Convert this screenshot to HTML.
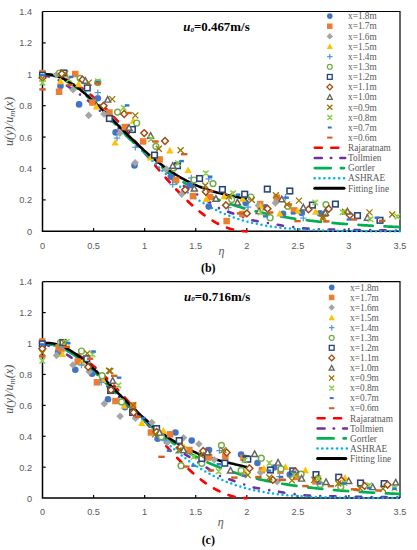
<!DOCTYPE html>
<html><head><meta charset="utf-8"><style>
html,body{margin:0;padding:0;background:#fff;width:417px;height:550px;overflow:hidden}
svg{display:block}
.tk{font-family:"Liberation Sans",sans-serif;font-size:9.2px;fill:#595959}
.lg{font-family:"Liberation Serif",serif;font-size:9.3px;fill:#595959}
.ttl{font-family:"Liberation Serif",serif;font-size:12.9px;font-weight:bold;fill:#000}
.yt{font-family:"Liberation Serif",serif;font-size:12.3px;font-style:italic;fill:#505050}
.eta{font-family:"Liberation Serif",serif;font-size:12px;font-style:italic;fill:#595959}
.cap{font-family:"Liberation Serif",serif;font-size:12px;font-weight:bold;fill:#000}
</style></head><body>
<svg width="417" height="550" viewBox="0 0 417 550">
<rect width="417" height="550" fill="#fff"/>
<path d="M42.5,11.5 H400 V231.3" fill="none" stroke="#000" stroke-width="1.2"/>
<path d="M42.5,11.5 V231.3 H400" fill="none" stroke="#000" stroke-width="1.5"/>
<path d="M42.5,199.90 h3.2" stroke="#000" stroke-width="1.2"/>
<path d="M42.5,168.50 h3.2" stroke="#000" stroke-width="1.2"/>
<path d="M42.5,137.10 h3.2" stroke="#000" stroke-width="1.2"/>
<path d="M42.5,105.70 h3.2" stroke="#000" stroke-width="1.2"/>
<path d="M42.5,74.30 h3.2" stroke="#000" stroke-width="1.2"/>
<path d="M42.5,42.90 h3.2" stroke="#000" stroke-width="1.2"/>
<path d="M93.57,231.3 v-3.2" stroke="#000" stroke-width="1.2"/>
<path d="M144.64,231.3 v-3.2" stroke="#000" stroke-width="1.2"/>
<path d="M195.71,231.3 v-3.2" stroke="#000" stroke-width="1.2"/>
<path d="M246.79,231.3 v-3.2" stroke="#000" stroke-width="1.2"/>
<path d="M297.86,231.3 v-3.2" stroke="#000" stroke-width="1.2"/>
<path d="M348.93,231.3 v-3.2" stroke="#000" stroke-width="1.2"/>
<text x="32.0" y="234.70" text-anchor="end" class="tk">0</text>
<text x="32.0" y="203.30" text-anchor="end" class="tk">0.2</text>
<text x="32.0" y="171.90" text-anchor="end" class="tk">0.4</text>
<text x="32.0" y="140.50" text-anchor="end" class="tk">0.6</text>
<text x="32.0" y="109.10" text-anchor="end" class="tk">0.8</text>
<text x="32.0" y="77.70" text-anchor="end" class="tk">1</text>
<text x="32.0" y="46.30" text-anchor="end" class="tk">1.2</text>
<text x="32.0" y="14.90" text-anchor="end" class="tk">1.4</text>
<text x="42.50" y="248.60" text-anchor="middle" class="tk">0</text>
<text x="93.57" y="248.60" text-anchor="middle" class="tk">0.5</text>
<text x="144.64" y="248.60" text-anchor="middle" class="tk">1</text>
<text x="195.71" y="248.60" text-anchor="middle" class="tk">1.5</text>
<text x="246.79" y="248.60" text-anchor="middle" class="tk">2</text>
<text x="297.86" y="248.60" text-anchor="middle" class="tk">2.5</text>
<text x="348.93" y="248.60" text-anchor="middle" class="tk">3</text>
<text x="400.00" y="248.60" text-anchor="middle" class="tk">3.5</text>
<path d="M47.74,74.55 L48.50,74.63 L49.31,74.73 L50.13,74.84 L50.95,74.96 L51.77,75.10 L52.58,75.24 L53.40,75.40 L53.96,75.52 M63.26,78.27 L64.03,78.56 L64.85,78.89 L65.67,79.23 L66.49,79.58 L67.30,79.94 L68.12,80.31 L68.94,80.70 L69.04,80.75 M77.54,85.42 L78.34,85.93 L79.16,86.45 L79.98,86.98 L80.80,87.52 L81.61,88.08 L82.43,88.64 L82.79,88.90 M90.52,94.75 L91.29,95.38 L92.11,96.06 L92.92,96.74 L93.74,97.44 L94.56,98.14 L95.34,98.82 M102.47,105.39 L103.28,106.17 L104.10,106.97 L104.92,107.77 L105.73,108.58 L106.55,109.40 L106.96,109.81 M113.67,116.81 L114.46,117.65 L115.27,118.54 L116.09,119.43 L116.91,120.33 L117.73,121.23 L117.93,121.45 M124.36,128.71 L125.09,129.55 L125.90,130.49 L126.72,131.44 L127.54,132.39 L128.36,133.34 L128.48,133.48 M134.74,140.89 L135.44,141.73 L136.26,142.71 L137.08,143.69 L137.90,144.67 L138.71,145.65 L138.78,145.73 M144.97,153.19 L145.66,154.03 L146.48,155.02 L147.30,156.01 L148.12,156.99 L148.94,157.98 L148.99,158.04 M155.20,165.49 L155.89,166.31 L156.70,167.28 L157.52,168.25 L158.34,169.21 L159.16,170.18 L159.27,170.31 M165.60,177.66 L166.38,178.55 L167.20,179.49 L168.02,180.41 L168.83,181.33 L169.65,182.25 L169.77,182.38 M176.31,189.54 L177.01,190.28 L177.83,191.14 L178.65,192.00 L179.46,192.85 L180.28,193.70 L180.66,194.09 M187.55,200.92 L188.32,201.65 L189.14,202.42 L189.96,203.18 L190.77,203.93 L191.59,204.68 L192.17,205.20 M199.56,211.49 L200.31,212.09 L201.13,212.73 L201.95,213.37 L202.77,213.99 L203.58,214.60 L204.40,215.21 L204.56,215.32 M212.62,220.71 L213.40,221.18 L214.21,221.66 L215.03,222.13 L215.85,222.58 L216.67,223.03 L217.49,223.46 L218.11,223.79 M226.99,227.69 L227.71,227.95 L228.52,228.22 L229.34,228.49 L230.16,228.75 L230.98,228.99 L231.79,229.22 L232.61,229.44 L233.01,229.54 M242.56,231.13 L243.38,231.19 L244.20,231.24 L245.01,231.27 L245.83,231.29 L246.65,231.30 L246.79,231.30" fill="none" stroke="#FF0000" stroke-width="2.7" stroke-linecap="round" stroke-linejoin="round"/>
<path d="M43.92,74.78 L45.12,75.19 L46.55,75.68 L47.99,76.16 L49.03,76.52 M67.01,85.61 L68.26,86.47 L69.69,87.45 L71.12,88.44 L71.46,88.67 M87.94,100.52 L89.24,101.64 L90.68,102.86 L92.05,104.02 M107.14,117.59 L108.56,118.93 L109.99,120.27 L111.07,121.29 M125.87,135.18 L127.16,136.39 L128.60,137.74 L129.81,138.88 M144.61,152.77 L146.01,153.95 L147.44,155.16 L148.73,156.26 M164.23,169.37 L165.56,170.49 L166.99,171.70 L168.36,172.85 M183.86,185.96 L185.12,186.87 L186.55,187.77 L187.98,188.67 L188.37,188.92 M205.55,199.73 L206.82,200.53 L208.25,201.43 L209.68,202.34 L210.12,202.61 M228.11,211.76 L229.48,212.25 L230.91,212.76 L232.34,213.27 L233.20,213.58 M252.34,220.30 L253.57,220.51 L255.00,220.76 L256.43,221.00 L257.66,221.21 M277.66,224.72 L279.08,224.98 L280.52,225.23 L281.95,225.49 L282.97,225.67 M303.09,228.35 L304.36,228.42 L305.80,228.50 L307.23,228.59 L308.48,228.66 M328.76,229.45 L330.12,229.47 L331.55,229.50 L332.98,229.53 L334.16,229.55 M354.46,229.95 L355.88,229.98 L357.31,230.01 L358.74,230.04 L359.86,230.05 M380.16,230.29 L381.40,230.30 L382.83,230.32 L384.26,230.33 L385.56,230.35" fill="none" stroke="#7030A0" stroke-width="2.6" stroke-linecap="round" stroke-linejoin="round"/>
<path d="M58.71,80.22h0 M80.00,94.60h0 M99.92,110.82h0 M118.66,128.41h0 M137.39,145.99h0 M156.68,162.97h0 M176.30,179.57h0 M197.17,194.46h0 M218.92,208.15h0 M242.98,217.10h0 M267.91,222.98h0 M293.27,227.11h0 M318.87,229.24h0 M344.56,229.76h0 M370.26,230.17h0 M395.95,230.47h0" fill="none" stroke="#7030A0" stroke-width="2.6" stroke-linecap="round" stroke-linejoin="round"/>
<path d="M42.50,74.30 L43.93,74.33 L45.36,74.40 L46.79,74.53 L48.22,74.71 L49.65,74.94 L51.09,75.21 L52.52,75.54 L53.95,75.92 L54.96,76.22 M65.70,80.80 L67.06,81.56 L68.50,82.39 L69.93,83.27 L71.36,84.18 L72.79,85.14 L74.22,86.12 L75.65,87.15 L77.08,88.20 L77.65,88.63 M86.68,96.06 L88.05,97.28 L89.48,98.57 L90.91,99.88 L92.34,101.21 L93.78,102.56 L95.21,103.93 L96.64,105.31 L97.15,105.81 M105.44,114.06 L106.65,115.29 L108.09,116.74 L109.52,118.20 L110.95,119.67 L112.38,121.13 L113.81,122.59 L115.24,124.06 L115.45,124.27 M123.65,132.62 L125.02,133.99 L126.45,135.42 L127.88,136.85 L129.31,138.26 L130.74,139.67 L132.17,141.07 L133.60,142.46 L133.82,142.67 M142.34,150.69 L143.62,151.85 L145.05,153.14 L146.48,154.42 L147.91,155.68 L149.34,156.93 L150.78,158.17 L152.21,159.39 L153.08,160.13 M162.18,167.48 L163.42,168.42 L164.85,169.51 L166.28,170.58 L167.71,171.63 L169.14,172.67 L170.57,173.69 L172.00,174.70 L173.43,175.69 L173.74,175.90 M183.55,182.27 L184.88,183.08 L186.31,183.94 L187.74,184.78 L189.17,185.61 L190.60,186.42 L192.03,187.22 L193.47,188.01 L194.90,188.78 L195.97,189.35 M206.45,194.54 L207.78,195.15 L209.21,195.79 L210.64,196.43 L212.07,197.05 L213.50,197.66 L214.93,198.26 L216.36,198.85 L217.79,199.42 L219.22,199.99 L219.61,200.14 M230.61,204.14 L231.86,204.56 L233.29,205.03 L234.72,205.49 L236.16,205.94 L237.59,206.38 L239.02,206.82 L240.45,207.25 L241.88,207.67 L243.31,208.08 L244.27,208.35 M255.59,211.30 L256.90,211.62 L258.34,211.95 L259.77,212.28 L261.20,212.60 L262.63,212.92 L264.06,213.23 L265.49,213.54 L266.92,213.84 L268.35,214.13 L269.55,214.38 M281.06,216.51 L282.42,216.74 L283.85,216.98 L285.29,217.22 L286.72,217.45 L288.15,217.67 L289.58,217.90 L291.01,218.11 L292.44,218.33 L293.87,218.54 L295.18,218.73 M306.78,220.26 L308.18,220.43 L309.61,220.60 L311.04,220.77 L312.47,220.94 L313.90,221.10 L315.34,221.26 L316.77,221.41 L318.20,221.57 L319.63,221.72 L320.99,221.86 M332.64,222.97 L333.94,223.08 L335.37,223.20 L336.80,223.32 L338.23,223.44 L339.66,223.56 L341.09,223.68 L342.52,223.79 L343.95,223.90 L345.39,224.01 L346.82,224.12 L346.89,224.12 M358.57,224.93 L359.93,225.02 L361.36,225.11 L362.80,225.19 L364.23,225.28 L365.66,225.37 L367.09,225.45 L368.52,225.53 L369.95,225.61 L371.38,225.69 L372.81,225.77 L372.84,225.77 M384.53,226.37 L385.93,226.43 L387.36,226.50 L388.79,226.57 L390.22,226.63 L391.65,226.69 L393.08,226.75 L394.51,226.82 L395.95,226.88 L397.38,226.94 L398.81,226.99 L398.81,226.99" fill="none" stroke="#00B050" stroke-width="2.7" stroke-linecap="round" stroke-linejoin="round"/>
<path d="M46.95,74.51h0 M51.68,75.18h0 M56.33,76.28h0 M60.87,77.78h0 M65.28,79.62h0 M69.56,81.75h0 M73.70,84.13h0 M77.72,86.72h0 M81.62,89.48h0 M85.42,92.39h0 M89.12,95.41h0 M92.74,98.54h0 M96.28,101.75h0 M99.76,105.03h0 M103.18,108.37h0 M106.55,111.75h0 M109.88,115.18h0 M113.18,118.64h0 M116.45,122.13h0 M119.70,125.63h0 M122.93,129.15h0 M126.16,132.68h0 M129.38,136.21h0 M132.60,139.75h0 M135.82,143.27h0 M139.06,146.79h0 M142.31,150.30h0 M145.57,153.79h0 M148.86,157.26h0 M152.18,160.70h0 M155.53,164.11h0 M158.91,167.49h0 M162.33,170.82h0 M165.80,174.12h0 M169.31,177.36h0 M172.87,180.54h0 M176.49,183.67h0 M180.17,186.73h0 M183.90,189.71h0 M187.70,192.61h0 M191.56,195.42h0 M195.49,198.15h0 M199.49,200.77h0 M203.56,203.28h0 M207.69,205.68h0 M211.89,207.96h0 M216.15,210.12h0 M220.48,212.16h0 M224.86,214.07h0 M229.30,215.84h0 M233.78,217.49h0 M238.32,219.01h0 M242.89,220.40h0 M247.50,221.67h0 M252.13,222.83h0 M256.80,223.87h0 M261.49,224.81h0 M266.19,225.65h0 M270.91,226.40h0 M275.65,227.06h0 M280.39,227.64h0 M285.14,228.16h0 M289.90,228.61h0 M294.66,229.00h0 M299.43,229.34h0 M304.20,229.64h0 M308.98,229.90h0 M313.75,230.12h0 M318.53,230.31h0 M323.30,230.47h0 M328.08,230.60h0 M332.86,230.72h0 M337.64,230.82h0 M342.42,230.90h0 M347.20,230.97h0 M351.98,231.03h0 M356.76,231.08h0 M361.54,231.12h0 M366.32,231.15h0 M371.10,231.18h0 M375.88,231.20h0 M380.66,231.22h0 M385.44,231.24h0 M390.22,231.25h0 M395.00,231.26h0 M399.78,231.27h0" fill="none" stroke="#00B0F0" stroke-width="2.5" stroke-linecap="round" stroke-linejoin="round"/>
<path d="M42.50,74.30 L44.22,74.18 L45.93,74.16 L47.65,74.24 L49.37,74.41 L51.08,74.67 L52.80,75.01 L54.52,75.44 L56.23,75.94 L57.95,76.53 L59.67,77.19 L61.38,77.91 L63.10,78.71 L64.82,79.58 L66.53,80.50 L68.25,81.49 L69.97,82.53 L71.68,83.63 L73.40,84.78 L75.12,85.97 L76.83,87.22 L78.55,88.51 L80.27,89.84 L81.98,91.21 L83.70,92.62 L85.42,94.06 L87.13,95.54 L88.85,97.05 L90.57,98.58 L92.28,100.14 L94.00,101.73 L95.72,103.33 L97.43,104.96 L99.15,106.60 L100.87,108.26 L102.58,109.94 L104.30,111.62 L106.02,113.32 L107.73,115.02 L109.45,116.73 L111.17,118.45 L112.88,120.17 L114.60,121.89 L116.32,123.61 L118.03,125.34 L119.75,127.05 L121.47,128.77 L123.18,130.48 L124.90,132.18 L126.62,133.87 L128.33,135.56 L130.05,137.23 L131.77,138.89 L133.48,140.54 L135.20,142.17 L136.92,143.79 L138.63,145.39 L140.35,146.98 L142.07,148.54 L143.78,150.09 L145.50,151.62 L147.22,153.13 L148.93,154.61 L150.65,156.08 L152.37,157.52 L154.08,158.93 L155.80,160.32 L157.52,161.69 L159.23,163.03 L160.95,164.35 L162.67,165.64 L164.38,166.91 L166.10,168.14 L167.82,169.35 L169.53,170.53 L171.25,171.69 L172.97,172.82 L174.68,173.91 L176.40,174.98 L178.12,176.03 L179.83,177.04 L181.55,178.03 L183.27,178.98 L184.98,179.91 L186.70,180.81 L188.42,181.69 L190.14,182.53 L191.85,183.35 L193.57,184.14 L195.29,184.91 L197.00,185.65 L198.72,186.36 L200.44,187.05 L202.15,187.71 L203.87,188.35 L205.59,188.97 L207.30,189.56 L209.02,190.13 L210.74,190.68 L212.45,191.21 L214.17,191.72 L215.89,192.21 L217.60,192.68 L219.32,193.13 L221.04,193.57 L222.75,193.99 L224.47,194.40 L226.19,194.80 L227.90,195.18 L229.62,195.55 L231.34,195.92 L233.05,196.27 L234.77,196.62 L236.49,196.96 L238.20,197.30 L239.92,197.64 L241.64,197.98 L243.35,198.31 L245.07,198.65 L246.79,198.99" fill="none" stroke="#000" stroke-width="2.55" stroke-linejoin="round"/>
<circle cx="60.5" cy="86.0" r="3.30" fill="#4472C4"/>
<circle cx="79.1" cy="104.4" r="3.30" fill="#4472C4"/>
<circle cx="97.8" cy="98.2" r="3.30" fill="#4472C4"/>
<circle cx="115.6" cy="132.4" r="3.30" fill="#4472C4"/>
<circle cx="134.5" cy="165.4" r="3.30" fill="#4472C4"/>
<circle cx="170.8" cy="176.8" r="3.30" fill="#4472C4"/>
<circle cx="190.0" cy="185.0" r="3.30" fill="#4472C4"/>
<circle cx="208.7" cy="206.6" r="3.30" fill="#4472C4"/>
<circle cx="245.7" cy="202.9" r="3.30" fill="#4472C4"/>
<circle cx="265.3" cy="207.2" r="3.30" fill="#4472C4"/>
<circle cx="283.1" cy="213.9" r="3.30" fill="#4472C4"/>
<circle cx="301.8" cy="213.0" r="3.30" fill="#4472C4"/>
<circle cx="320.0" cy="213.4" r="3.30" fill="#4472C4"/>
<rect x="39.2" y="69.8" width="6.5" height="6.5" fill="#ED7D31"/>
<rect x="55.8" y="88.5" width="6.5" height="6.5" fill="#ED7D31"/>
<rect x="72.0" y="70.8" width="6.5" height="6.5" fill="#ED7D31"/>
<rect x="89.2" y="99.2" width="6.5" height="6.5" fill="#ED7D31"/>
<rect x="106.2" y="109.3" width="6.5" height="6.5" fill="#ED7D31"/>
<rect x="121.5" y="123.8" width="6.5" height="6.5" fill="#ED7D31"/>
<rect x="139.9" y="138.2" width="6.5" height="6.5" fill="#ED7D31"/>
<rect x="156.4" y="156.2" width="6.5" height="6.5" fill="#ED7D31"/>
<rect x="172.8" y="176.8" width="6.5" height="6.5" fill="#ED7D31"/>
<rect x="189.7" y="192.8" width="6.5" height="6.5" fill="#ED7D31"/>
<rect x="206.8" y="193.8" width="6.5" height="6.5" fill="#ED7D31"/>
<rect x="239.1" y="210.7" width="6.5" height="6.5" fill="#ED7D31"/>
<rect x="223.4" y="217.8" width="6.5" height="6.5" fill="#ED7D31"/>
<rect x="273.6" y="194.4" width="6.5" height="6.5" fill="#ED7D31"/>
<rect x="256.9" y="200.8" width="6.5" height="6.5" fill="#ED7D31"/>
<rect x="290.6" y="207.2" width="6.5" height="6.5" fill="#ED7D31"/>
<path d="M56.6,70.7 L60.4,74.5 L56.6,78.3 L52.8,74.5Z" fill="#A5A5A5"/>
<path d="M73.0,86.0 L76.8,89.8 L73.0,93.6 L69.2,89.8Z" fill="#A5A5A5"/>
<path d="M88.7,111.6 L92.5,115.4 L88.7,119.2 L84.9,115.4Z" fill="#A5A5A5"/>
<path d="M104.0,110.2 L107.8,114.0 L104.0,117.8 L100.2,114.0Z" fill="#A5A5A5"/>
<path d="M119.9,129.5 L123.7,133.3 L119.9,137.1 L116.1,133.3Z" fill="#A5A5A5"/>
<path d="M135.1,158.9 L138.9,162.7 L135.1,166.5 L131.3,162.7Z" fill="#A5A5A5"/>
<path d="M166.5,165.2 L170.3,169.0 L166.5,172.8 L162.7,169.0Z" fill="#A5A5A5"/>
<path d="M181.8,190.3 L185.6,194.1 L181.8,197.9 L178.0,194.1Z" fill="#A5A5A5"/>
<path d="M275.4,199.2 L279.2,203.0 L275.4,206.8 L271.6,203.0Z" fill="#A5A5A5"/>
<path d="M258.4,201.6 L262.2,205.4 L258.4,209.2 L254.6,205.4Z" fill="#A5A5A5"/>
<path d="M60.5,77.6 L64.1,84.3 L56.9,84.3Z" fill="#FFC000"/>
<path d="M78.6,80.5 L82.2,87.2 L75.0,87.2Z" fill="#FFC000"/>
<path d="M96.4,102.7 L100.0,109.4 L92.8,109.4Z" fill="#FFC000"/>
<path d="M133.3,117.0 L136.9,123.7 L129.7,123.7Z" fill="#FFC000"/>
<path d="M115.1,138.9 L118.7,145.6 L111.5,145.6Z" fill="#FFC000"/>
<path d="M169.8,146.7 L173.4,153.4 L166.2,153.4Z" fill="#FFC000"/>
<path d="M150.6,153.9 L154.2,160.6 L147.0,160.6Z" fill="#FFC000"/>
<path d="M188.1,166.4 L191.7,173.1 L184.5,173.1Z" fill="#FFC000"/>
<path d="M206.3,195.4 L209.9,202.1 L202.7,202.1Z" fill="#FFC000"/>
<path d="M224.1,192.6 L227.7,199.3 L220.5,199.3Z" fill="#FFC000"/>
<path d="M242.8,195.0 L246.4,201.7 L239.2,201.7Z" fill="#FFC000"/>
<path d="M260.6,202.4 L264.2,209.1 L257.0,209.1Z" fill="#FFC000"/>
<path d="M279.8,209.8 L283.4,216.5 L276.2,216.5Z" fill="#FFC000"/>
<path d="M297.5,207.1 L301.1,213.8 L293.9,213.8Z" fill="#FFC000"/>
<path d="M315.7,208.0 L319.3,214.7 L312.1,214.7Z" fill="#FFC000"/>
<path d="M94.6,92.7 H101.0 M97.8,89.5 V95.9" stroke="#5B9BD5" stroke-width="1.3" fill="none"/>
<path d="M113.8,138.1 H120.2 M117.0,134.9 V141.3" stroke="#5B9BD5" stroke-width="1.3" fill="none"/>
<path d="M132.1,147.3 H138.5 M135.3,144.1 V150.5" stroke="#5B9BD5" stroke-width="1.3" fill="none"/>
<path d="M169.5,184.6 H175.9 M172.7,181.4 V187.8" stroke="#5B9BD5" stroke-width="1.3" fill="none"/>
<path d="M188.2,178.0 H194.6 M191.4,174.8 V181.2" stroke="#5B9BD5" stroke-width="1.3" fill="none"/>
<path d="M205.5,178.8 H211.9 M208.7,175.6 V182.0" stroke="#5B9BD5" stroke-width="1.3" fill="none"/>
<path d="M225.2,207.7 H231.6 M228.4,204.5 V210.9" stroke="#5B9BD5" stroke-width="1.3" fill="none"/>
<path d="M244.8,207.2 H251.2 M248.0,204.0 V210.4" stroke="#5B9BD5" stroke-width="1.3" fill="none"/>
<path d="M282.3,197.3 H288.7 M285.5,194.1 V200.5" stroke="#5B9BD5" stroke-width="1.3" fill="none"/>
<path d="M300.1,218.2 H306.5 M303.3,215.0 V221.4" stroke="#5B9BD5" stroke-width="1.3" fill="none"/>
<circle cx="42.5" cy="74.5" r="2.90" fill="#fff" stroke="#70AD47" stroke-width="1.45"/>
<circle cx="59.5" cy="73.0" r="2.90" fill="#fff" stroke="#70AD47" stroke-width="1.45"/>
<circle cx="80.1" cy="78.3" r="2.90" fill="#fff" stroke="#70AD47" stroke-width="1.45"/>
<circle cx="97.8" cy="82.6" r="2.90" fill="#fff" stroke="#70AD47" stroke-width="1.45"/>
<circle cx="117.5" cy="112.1" r="2.90" fill="#fff" stroke="#70AD47" stroke-width="1.45"/>
<circle cx="136.7" cy="123.0" r="2.90" fill="#fff" stroke="#70AD47" stroke-width="1.45"/>
<circle cx="155.9" cy="146.3" r="2.90" fill="#fff" stroke="#70AD47" stroke-width="1.45"/>
<circle cx="173.7" cy="168.1" r="2.90" fill="#fff" stroke="#70AD47" stroke-width="1.45"/>
<circle cx="194.0" cy="180.0" r="2.90" fill="#fff" stroke="#70AD47" stroke-width="1.45"/>
<circle cx="213.0" cy="183.6" r="2.90" fill="#fff" stroke="#70AD47" stroke-width="1.45"/>
<circle cx="250.9" cy="197.0" r="2.90" fill="#fff" stroke="#70AD47" stroke-width="1.45"/>
<circle cx="231.7" cy="199.5" r="2.90" fill="#fff" stroke="#70AD47" stroke-width="1.45"/>
<circle cx="270.1" cy="217.7" r="2.90" fill="#fff" stroke="#70AD47" stroke-width="1.45"/>
<circle cx="287.9" cy="206.3" r="2.90" fill="#fff" stroke="#70AD47" stroke-width="1.45"/>
<circle cx="326.0" cy="204.6" r="2.90" fill="#fff" stroke="#70AD47" stroke-width="1.45"/>
<rect x="39.7" y="72.4" width="5.6" height="5.6" fill="#fff" stroke="#264478" stroke-width="1.55"/>
<rect x="61.0" y="70.2" width="5.6" height="5.6" fill="#fff" stroke="#264478" stroke-width="1.55"/>
<rect x="84.5" y="85.1" width="5.6" height="5.6" fill="#fff" stroke="#264478" stroke-width="1.55"/>
<rect x="106.6" y="115.7" width="5.6" height="5.6" fill="#fff" stroke="#264478" stroke-width="1.55"/>
<rect x="129.6" y="126.7" width="5.6" height="5.6" fill="#fff" stroke="#264478" stroke-width="1.55"/>
<rect x="151.7" y="152.3" width="5.6" height="5.6" fill="#fff" stroke="#264478" stroke-width="1.55"/>
<rect x="174.7" y="162.9" width="5.6" height="5.6" fill="#fff" stroke="#264478" stroke-width="1.55"/>
<rect x="196.8" y="175.7" width="5.6" height="5.6" fill="#fff" stroke="#264478" stroke-width="1.55"/>
<rect x="219.6" y="186.7" width="5.6" height="5.6" fill="#fff" stroke="#264478" stroke-width="1.55"/>
<rect x="241.9" y="191.4" width="5.6" height="5.6" fill="#fff" stroke="#264478" stroke-width="1.55"/>
<rect x="264.5" y="186.3" width="5.6" height="5.6" fill="#fff" stroke="#264478" stroke-width="1.55"/>
<rect x="287.0" y="188.2" width="5.6" height="5.6" fill="#fff" stroke="#264478" stroke-width="1.55"/>
<rect x="309.6" y="202.3" width="5.6" height="5.6" fill="#fff" stroke="#264478" stroke-width="1.55"/>
<rect x="332.6" y="201.3" width="5.6" height="5.6" fill="#fff" stroke="#264478" stroke-width="1.55"/>
<rect x="354.7" y="212.8" width="5.6" height="5.6" fill="#fff" stroke="#264478" stroke-width="1.55"/>
<rect x="377.2" y="217.5" width="5.6" height="5.6" fill="#fff" stroke="#264478" stroke-width="1.55"/>
<path d="M42.5,74.4 L45.9,77.8 L42.5,81.2 L39.1,77.8Z" fill="#fff" stroke="#9E480E" stroke-width="1.45"/>
<path d="M61.8,70.4 L65.2,73.8 L61.8,77.2 L58.4,73.8Z" fill="#fff" stroke="#9E480E" stroke-width="1.45"/>
<path d="M82.5,76.3 L85.9,79.7 L82.5,83.1 L79.1,79.7Z" fill="#fff" stroke="#9E480E" stroke-width="1.45"/>
<path d="M103.6,102.4 L107.0,105.8 L103.6,109.2 L100.2,105.8Z" fill="#fff" stroke="#9E480E" stroke-width="1.45"/>
<path d="M124.2,110.6 L127.6,114.0 L124.2,117.4 L120.8,114.0Z" fill="#fff" stroke="#9E480E" stroke-width="1.45"/>
<path d="M144.2,129.7 L147.6,133.1 L144.2,136.5 L140.8,133.1Z" fill="#fff" stroke="#9E480E" stroke-width="1.45"/>
<path d="M165.0,137.6 L168.4,141.0 L165.0,144.4 L161.6,141.0Z" fill="#fff" stroke="#9E480E" stroke-width="1.45"/>
<path d="M185.2,186.4 L188.6,189.8 L185.2,193.2 L181.8,189.8Z" fill="#fff" stroke="#9E480E" stroke-width="1.45"/>
<path d="M205.8,188.4 L209.2,191.8 L205.8,195.2 L202.4,191.8Z" fill="#fff" stroke="#9E480E" stroke-width="1.45"/>
<path d="M226.0,201.9 L229.4,205.3 L226.0,208.7 L222.6,205.3Z" fill="#fff" stroke="#9E480E" stroke-width="1.45"/>
<path d="M246.9,210.0 L250.3,213.4 L246.9,216.8 L243.5,213.4Z" fill="#fff" stroke="#9E480E" stroke-width="1.45"/>
<path d="M267.5,205.3 L270.9,208.7 L267.5,212.1 L264.1,208.7Z" fill="#fff" stroke="#9E480E" stroke-width="1.45"/>
<path d="M308.5,206.0 L311.9,209.4 L308.5,212.8 L305.1,209.4Z" fill="#fff" stroke="#9E480E" stroke-width="1.45"/>
<path d="M328.7,205.5 L332.1,208.9 L328.7,212.3 L325.3,208.9Z" fill="#fff" stroke="#9E480E" stroke-width="1.45"/>
<path d="M349.8,211.7 L353.2,215.1 L349.8,218.5 L346.4,215.1Z" fill="#fff" stroke="#9E480E" stroke-width="1.45"/>
<path d="M85.4,77.7 L88.4,83.2 L82.4,83.2Z" fill="#fff" stroke="#636363" stroke-width="1.45"/>
<path d="M107.7,96.6 L110.7,102.1 L104.7,102.1Z" fill="#fff" stroke="#636363" stroke-width="1.45"/>
<path d="M129.0,124.6 L132.0,130.2 L126.0,130.2Z" fill="#fff" stroke="#636363" stroke-width="1.45"/>
<path d="M150.6,132.7 L153.6,138.2 L147.6,138.2Z" fill="#fff" stroke="#636363" stroke-width="1.45"/>
<path d="M172.7,162.7 L175.7,168.2 L169.7,168.2Z" fill="#fff" stroke="#636363" stroke-width="1.45"/>
<path d="M194.3,185.4 L197.3,191.0 L191.3,191.0Z" fill="#fff" stroke="#636363" stroke-width="1.45"/>
<path d="M215.9,195.7 L218.9,201.2 L212.9,201.2Z" fill="#fff" stroke="#636363" stroke-width="1.45"/>
<path d="M237.5,199.4 L240.5,205.0 L234.5,205.0Z" fill="#fff" stroke="#636363" stroke-width="1.45"/>
<path d="M281.7,196.2 L284.7,201.8 L278.7,201.8Z" fill="#fff" stroke="#636363" stroke-width="1.45"/>
<path d="M259.1,208.0 L262.1,213.6 L256.1,213.6Z" fill="#fff" stroke="#636363" stroke-width="1.45"/>
<path d="M303.3,204.3 L306.3,209.9 L300.3,209.9Z" fill="#fff" stroke="#636363" stroke-width="1.45"/>
<path d="M324.4,210.4 L327.4,216.0 L321.4,216.0Z" fill="#fff" stroke="#636363" stroke-width="1.45"/>
<path d="M325.4,209.7 L328.4,215.2 L322.4,215.2Z" fill="#fff" stroke="#636363" stroke-width="1.45"/>
<path d="M347.4,208.3 L350.4,213.9 L344.4,213.9Z" fill="#fff" stroke="#636363" stroke-width="1.45"/>
<path d="M367.4,214.7 L370.4,220.2 L364.4,220.2Z" fill="#fff" stroke="#636363" stroke-width="1.45"/>
<path d="M39.5,75.5 L45.5,81.5 M45.5,75.5 L39.5,81.5" stroke="#997300" stroke-width="1.3" fill="none"/>
<path d="M62.2,70.5 L68.2,76.5 M68.2,70.5 L62.2,76.5" stroke="#997300" stroke-width="1.3" fill="none"/>
<path d="M85.7,79.6 L91.7,85.6 M91.7,79.6 L85.7,85.6" stroke="#997300" stroke-width="1.3" fill="none"/>
<path d="M109.2,96.1 L115.2,102.1 M115.2,96.1 L109.2,102.1" stroke="#997300" stroke-width="1.3" fill="none"/>
<path d="M132.3,112.4 L138.3,118.4 M138.3,112.4 L132.3,118.4" stroke="#997300" stroke-width="1.3" fill="none"/>
<path d="M155.8,145.7 L161.8,151.7 M161.8,145.7 L155.8,151.7" stroke="#997300" stroke-width="1.3" fill="none"/>
<path d="M177.6,147.3 L183.6,153.3 M183.6,147.3 L177.6,153.3" stroke="#997300" stroke-width="1.3" fill="none"/>
<path d="M202.3,182.5 L208.3,188.5 M208.3,182.5 L202.3,188.5" stroke="#997300" stroke-width="1.3" fill="none"/>
<path d="M248.9,197.0 L254.9,203.0 M254.9,197.0 L248.9,203.0" stroke="#997300" stroke-width="1.3" fill="none"/>
<path d="M225.9,193.2 L231.9,199.2 M231.9,193.2 L225.9,199.2" stroke="#997300" stroke-width="1.3" fill="none"/>
<path d="M272.9,192.3 L278.9,198.3 M278.9,192.3 L272.9,198.3" stroke="#997300" stroke-width="1.3" fill="none"/>
<path d="M284.0,201.5 L290.0,207.5 M290.0,201.5 L284.0,207.5" stroke="#997300" stroke-width="1.3" fill="none"/>
<path d="M296.0,197.6 L302.0,203.6 M302.0,197.6 L296.0,203.6" stroke="#997300" stroke-width="1.3" fill="none"/>
<path d="M319.9,215.7 L325.9,221.7 M325.9,215.7 L319.9,221.7" stroke="#997300" stroke-width="1.3" fill="none"/>
<path d="M320.0,213.6 L326.0,219.6 M326.0,213.6 L320.0,219.6" stroke="#997300" stroke-width="1.3" fill="none"/>
<path d="M342.0,208.8 L348.0,214.8 M348.0,208.8 L342.0,214.8" stroke="#997300" stroke-width="1.3" fill="none"/>
<path d="M366.5,209.4 L372.5,215.4 M372.5,209.4 L366.5,215.4" stroke="#997300" stroke-width="1.3" fill="none"/>
<path d="M389.2,211.5 L395.2,217.5 M395.2,211.5 L389.2,217.5" stroke="#997300" stroke-width="1.3" fill="none"/>
<path d="M39.7,80.0 L45.3,85.6 M45.3,80.0 L39.7,85.6 M42.5,80.8 V84.8" stroke="#8CCB45" stroke-width="1.4" fill="none"/>
<path d="M66.3,76.5 L71.9,82.1 M71.9,76.5 L66.3,82.1 M69.1,77.3 V81.3" stroke="#8CCB45" stroke-width="1.4" fill="none"/>
<path d="M95.0,78.4 L100.6,84.0 M100.6,78.4 L95.0,84.0 M97.8,79.2 V83.2" stroke="#8CCB45" stroke-width="1.4" fill="none"/>
<path d="M120.9,104.9 L126.5,110.5 M126.5,104.9 L120.9,110.5 M123.7,105.7 V109.7" stroke="#8CCB45" stroke-width="1.4" fill="none"/>
<path d="M148.3,136.3 L153.9,141.9 M153.9,136.3 L148.3,141.9 M151.1,137.1 V141.1" stroke="#8CCB45" stroke-width="1.4" fill="none"/>
<path d="M175.2,160.5 L180.8,166.1 M180.8,160.5 L175.2,166.1 M178.0,161.3 V165.3" stroke="#8CCB45" stroke-width="1.4" fill="none"/>
<path d="M203.0,170.5 L208.6,176.1 M208.6,170.5 L203.0,176.1 M205.8,171.3 V175.3" stroke="#8CCB45" stroke-width="1.4" fill="none"/>
<path d="M230.4,190.5 L236.0,196.1 M236.0,190.5 L230.4,196.1 M233.2,191.3 V195.3" stroke="#8CCB45" stroke-width="1.4" fill="none"/>
<path d="M257.8,209.7 L263.4,215.3 M263.4,209.7 L257.8,215.3 M260.6,210.5 V214.5" stroke="#8CCB45" stroke-width="1.4" fill="none"/>
<path d="M312.5,199.7 L318.1,205.3 M318.1,199.7 L312.5,205.3 M315.3,200.5 V204.5" stroke="#8CCB45" stroke-width="1.4" fill="none"/>
<path d="M339.8,209.5 L345.4,215.1 M345.4,209.5 L339.8,215.1 M342.6,210.3 V214.3" stroke="#8CCB45" stroke-width="1.4" fill="none"/>
<path d="M367.7,216.5 L373.3,222.1 M373.3,216.5 L367.7,222.1 M370.5,217.3 V221.3" stroke="#8CCB45" stroke-width="1.4" fill="none"/>
<path d="M394.6,213.8 L400.2,219.4 M400.2,213.8 L394.6,219.4 M397.4,214.6 V218.6" stroke="#8CCB45" stroke-width="1.4" fill="none"/>
<rect x="40.2" y="74.0" width="4.6" height="2.4" fill="#2E75D6"/>
<rect x="68.7" y="75.7" width="4.6" height="2.4" fill="#2E75D6"/>
<rect x="95.5" y="80.9" width="4.6" height="2.4" fill="#2E75D6"/>
<rect x="124.8" y="104.2" width="4.6" height="2.4" fill="#2E75D6"/>
<rect x="179.3" y="159.9" width="4.6" height="2.4" fill="#2E75D6"/>
<rect x="207.8" y="175.5" width="4.6" height="2.4" fill="#2E75D6"/>
<rect x="235.7" y="193.5" width="4.6" height="2.4" fill="#2E75D6"/>
<rect x="263.0" y="215.1" width="4.6" height="2.4" fill="#2E75D6"/>
<rect x="284.2" y="196.5" width="4.6" height="2.4" fill="#2E75D6"/>
<rect x="290.9" y="212.2" width="4.6" height="2.4" fill="#2E75D6"/>
<rect x="346.6" y="218.3" width="4.6" height="2.4" fill="#2E75D6"/>
<rect x="374.6" y="216.5" width="4.6" height="2.4" fill="#2E75D6"/>
<rect x="39.3" y="88.2" width="6.4" height="2.4" fill="#D2601A"/>
<rect x="66.8" y="83.8" width="6.4" height="2.4" fill="#D2601A"/>
<rect x="94.6" y="82.4" width="6.4" height="2.4" fill="#D2601A"/>
<rect x="125.4" y="111.8" width="6.4" height="2.4" fill="#D2601A"/>
<rect x="152.2" y="140.3" width="6.4" height="2.4" fill="#D2601A"/>
<rect x="181.0" y="153.0" width="6.4" height="2.4" fill="#D2601A"/>
<rect x="206.9" y="190.1" width="6.4" height="2.4" fill="#D2601A"/>
<rect x="236.8" y="212.2" width="6.4" height="2.4" fill="#D2601A"/>
<rect x="266.9" y="211.3" width="6.4" height="2.4" fill="#D2601A"/>
<rect x="285.7" y="203.3" width="6.4" height="2.4" fill="#D2601A"/>
<rect x="294.3" y="219.9" width="6.4" height="2.4" fill="#D2601A"/>
<rect x="323.1" y="220.2" width="6.4" height="2.4" fill="#D2601A"/>
<rect x="350.9" y="218.3" width="6.4" height="2.4" fill="#D2601A"/>
<rect x="379.0" y="219.6" width="6.4" height="2.4" fill="#D2601A"/>
<circle cx="329.8" cy="16.1" r="2.80" fill="#4472C4"/>
<text x="348" y="19.3" class="lg">x=1.8m</text>
<rect x="327.0" y="23.5" width="5.5" height="5.5" fill="#ED7D31"/>
<text x="348" y="29.4" class="lg">x=1.7m</text>
<path d="M329.8,33.1 L333.0,36.4 L329.8,39.6 L326.6,36.4Z" fill="#A5A5A5"/>
<text x="348" y="39.6" class="lg">x=1.6m</text>
<path d="M329.8,43.4 L332.9,49.1 L326.7,49.1Z" fill="#FFC000"/>
<text x="348" y="49.7" class="lg">x=1.5m</text>
<path d="M327.1,56.6 H332.5 M329.8,53.9 V59.3" stroke="#5B9BD5" stroke-width="1.3" fill="none"/>
<text x="348" y="59.8" class="lg">x=1.4m</text>
<circle cx="329.8" cy="66.8" r="2.46" fill="#fff" stroke="#70AD47" stroke-width="1.23"/>
<text x="348" y="70.0" class="lg">x=1.3m</text>
<rect x="327.4" y="74.5" width="4.8" height="4.8" fill="#fff" stroke="#264478" stroke-width="1.32"/>
<text x="348" y="80.1" class="lg">x=1.2m</text>
<path d="M329.8,84.1 L332.7,87.0 L329.8,89.9 L326.9,87.0Z" fill="#fff" stroke="#9E480E" stroke-width="1.23"/>
<text x="348" y="90.2" class="lg">x=1.1m</text>
<path d="M329.8,94.6 L332.4,99.3 L327.2,99.3Z" fill="#fff" stroke="#636363" stroke-width="1.23"/>
<text x="348" y="100.3" class="lg">x=1.0m</text>
<path d="M327.2,104.7 L332.4,109.8 M332.4,104.7 L327.2,109.8" stroke="#997300" stroke-width="1.3" fill="none"/>
<text x="348" y="110.5" class="lg">x=0.9m</text>
<path d="M327.4,115.0 L332.2,119.8 M332.2,115.0 L327.4,119.8 M329.8,115.7 V119.1" stroke="#8CCB45" stroke-width="1.4" fill="none"/>
<text x="348" y="120.6" class="lg">x=0.8m</text>
<rect x="327.8" y="126.5" width="3.9" height="2.0" fill="#2E75D6"/>
<text x="348" y="130.7" class="lg">x=0.7m</text>
<rect x="327.1" y="136.6" width="5.4" height="2.0" fill="#D2601A"/>
<text x="348" y="140.9" class="lg">x=0.6m</text>
<path d="M314.8,147.8 H345.2" stroke="#FF0000" stroke-width="2.6" stroke-dasharray="7 9.5" stroke-linecap="round"/>
<text x="348" y="151.0" class="lg">Rajaratnam</text>
<path d="M314.8,157.9 H345.2" stroke="#7030A0" stroke-width="2.5" stroke-dasharray="7 9 0.5 9" stroke-linecap="round"/>
<text x="348" y="161.1" class="lg">Tollmien</text>
<path d="M314.8,168.1 H344.0" stroke="#00B050" stroke-width="2.6" stroke-dasharray="16 10" stroke-linecap="round"/>
<text x="348" y="171.2" class="lg">Gortler</text>
<path d="M314.6,178.2 H345.2" stroke="#00B0F0" stroke-width="2.5" stroke-dasharray="0.1 4.8" stroke-linecap="round"/>
<text x="348" y="181.4" class="lg">ASHRAE</text>
<path d="M314.8,188.3 H344.0" stroke="#000" stroke-width="3" stroke-linecap="round"/>
<text x="348" y="191.5" class="lg">Fitting line</text>
<text x="183.3" y="31" class="ttl"><tspan font-style="italic">u</tspan><tspan font-style="italic" font-size="7" dy="0.5">0</tspan><tspan dy="-0.5">=0.467m/s</tspan></text>
<text transform="translate(12.8,121.5) rotate(-90)" text-anchor="middle" class="yt">u(y)/u<tspan font-size="8.5" dy="2">m</tspan><tspan dy="-2">(x)</tspan></text>
<text x="221.5" y="255" text-anchor="middle" class="eta">η</text>
<text x="208.3" y="272" text-anchor="middle" class="cap">(b)</text>
<path d="M42.5,281.7 H400 V498.1" fill="none" stroke="#000" stroke-width="1.2"/>
<path d="M42.5,281.7 V498.1 H400" fill="none" stroke="#000" stroke-width="1.5"/>
<path d="M42.5,467.19 h3.2" stroke="#000" stroke-width="1.2"/>
<path d="M42.5,436.27 h3.2" stroke="#000" stroke-width="1.2"/>
<path d="M42.5,405.36 h3.2" stroke="#000" stroke-width="1.2"/>
<path d="M42.5,374.44 h3.2" stroke="#000" stroke-width="1.2"/>
<path d="M42.5,343.53 h3.2" stroke="#000" stroke-width="1.2"/>
<path d="M42.5,312.61 h3.2" stroke="#000" stroke-width="1.2"/>
<path d="M93.57,498.1 v-3.2" stroke="#000" stroke-width="1.2"/>
<path d="M144.64,498.1 v-3.2" stroke="#000" stroke-width="1.2"/>
<path d="M195.71,498.1 v-3.2" stroke="#000" stroke-width="1.2"/>
<path d="M246.79,498.1 v-3.2" stroke="#000" stroke-width="1.2"/>
<path d="M297.86,498.1 v-3.2" stroke="#000" stroke-width="1.2"/>
<path d="M348.93,498.1 v-3.2" stroke="#000" stroke-width="1.2"/>
<text x="32.0" y="501.50" text-anchor="end" class="tk">0</text>
<text x="32.0" y="470.59" text-anchor="end" class="tk">0.2</text>
<text x="32.0" y="439.67" text-anchor="end" class="tk">0.4</text>
<text x="32.0" y="408.76" text-anchor="end" class="tk">0.6</text>
<text x="32.0" y="377.84" text-anchor="end" class="tk">0.8</text>
<text x="32.0" y="346.93" text-anchor="end" class="tk">1</text>
<text x="32.0" y="316.01" text-anchor="end" class="tk">1.2</text>
<text x="32.0" y="285.10" text-anchor="end" class="tk">1.4</text>
<text x="42.50" y="515.40" text-anchor="middle" class="tk">0</text>
<text x="93.57" y="515.40" text-anchor="middle" class="tk">0.5</text>
<text x="144.64" y="515.40" text-anchor="middle" class="tk">1</text>
<text x="195.71" y="515.40" text-anchor="middle" class="tk">1.5</text>
<text x="246.79" y="515.40" text-anchor="middle" class="tk">2</text>
<text x="297.86" y="515.40" text-anchor="middle" class="tk">2.5</text>
<text x="348.93" y="515.40" text-anchor="middle" class="tk">3</text>
<text x="400.00" y="515.40" text-anchor="middle" class="tk">3.5</text>
<path d="M47.74,343.78 L48.50,343.86 L49.31,343.95 L50.13,344.06 L50.95,344.18 L51.77,344.31 L52.58,344.46 L53.40,344.61 L53.97,344.73 M63.27,347.44 L64.03,347.73 L64.85,348.05 L65.67,348.38 L66.49,348.73 L67.30,349.08 L68.12,349.45 L68.94,349.83 L69.07,349.89 M77.59,354.51 L78.34,354.97 L79.16,355.49 L79.98,356.01 L80.80,356.55 L81.61,357.09 L82.43,357.65 L82.87,357.95 M90.64,363.76 L91.42,364.39 L92.24,365.06 L93.06,365.74 L93.88,366.42 L94.70,367.12 L95.48,367.79 M102.66,374.31 L103.42,375.03 L104.24,375.82 L105.05,376.61 L105.87,377.41 L106.69,378.22 L107.17,378.71 M113.94,385.66 L114.73,386.50 L115.55,387.38 L116.36,388.25 L117.18,389.14 L118.00,390.03 L118.23,390.27 M124.71,397.49 L125.50,398.38 L126.31,399.32 L127.13,400.25 L127.95,401.19 L128.77,402.13 L128.85,402.23 M135.17,409.60 L135.85,410.40 L136.67,411.36 L137.49,412.33 L138.31,413.29 L139.12,414.26 L139.24,414.40 M145.49,421.82 L146.21,422.68 L147.03,423.65 L147.85,424.62 L148.66,425.59 L149.48,426.56 L149.55,426.64 M155.82,434.04 L156.57,434.91 L157.39,435.86 L158.20,436.81 L159.02,437.76 L159.84,438.71 L159.93,438.82 M166.32,446.11 L167.06,446.93 L167.88,447.85 L168.70,448.76 L169.51,449.66 L170.33,450.56 L170.54,450.79 M177.16,457.88 L177.96,458.71 L178.78,459.55 L179.60,460.39 L180.42,461.22 L181.23,462.05 L181.57,462.38 M188.55,469.12 L189.27,469.79 L190.09,470.54 L190.91,471.28 L191.73,472.01 L192.55,472.74 L193.23,473.33 M200.71,479.50 L201.40,480.03 L202.22,480.65 L203.04,481.26 L203.86,481.86 L204.67,482.45 L205.49,483.03 L205.78,483.24 M213.96,488.46 L214.76,488.91 L215.58,489.37 L216.39,489.81 L217.21,490.24 L218.03,490.67 L218.85,491.08 L219.52,491.41 M228.50,495.06 L229.21,495.29 L230.02,495.55 L230.84,495.79 L231.66,496.02 L232.48,496.24 L233.29,496.44 L234.11,496.64 L234.57,496.74 M244.17,498.04 L244.88,498.07 L245.70,498.09 L246.51,498.10 L246.79,498.10" fill="none" stroke="#FF0000" stroke-width="2.7" stroke-linecap="round" stroke-linejoin="round"/>
<path d="M43.92,344.00 L45.12,344.40 L46.55,344.88 L47.99,345.36 L49.04,345.71 M67.08,354.71 L68.50,355.67 L69.93,356.64 L71.36,357.61 L71.55,357.74 M88.10,369.48 L89.48,370.64 L90.91,371.84 L92.23,372.95 M107.42,386.41 L108.80,387.69 L110.23,389.01 L111.39,390.08 M126.29,403.86 L127.64,405.10 L129.07,406.42 L130.26,407.52 M145.19,421.27 L146.48,422.35 L147.91,423.54 L149.34,424.73 M164.94,437.71 L166.28,438.83 L167.71,440.02 L169.09,441.17 M184.73,454.11 L186.07,454.94 L187.50,455.83 L188.93,456.72 L189.32,456.96 M206.57,467.65 L207.78,468.40 L209.21,469.29 L210.64,470.18 L211.16,470.50 M229.33,479.29 L230.67,479.76 L232.10,480.27 L233.53,480.77 L234.42,481.09 M253.65,487.49 L255.00,487.72 L256.43,487.96 L257.86,488.20 L258.98,488.39 M278.98,491.86 L280.28,492.09 L281.71,492.34 L283.14,492.59 L284.30,492.80 M304.44,495.27 L305.80,495.35 L307.23,495.43 L308.66,495.51 L309.83,495.57 M330.12,496.30 L331.31,496.32 L332.75,496.35 L334.18,496.38 L335.52,496.41 M355.81,496.80 L357.07,496.82 L358.50,496.85 L359.93,496.87 L361.21,496.89 M381.51,497.12 L382.83,497.13 L384.26,497.15 L385.69,497.16 L386.91,497.18" fill="none" stroke="#7030A0" stroke-width="2.6" stroke-linecap="round" stroke-linejoin="round"/>
<path d="M58.74,349.37h0 M80.13,363.61h0 M100.15,379.69h0 M119.02,397.14h0 M137.90,414.58h0 M157.33,431.38h0 M177.09,447.82h0 M198.16,462.44h0 M220.00,475.97h0 M244.23,484.56h0 M269.23,490.14h0 M294.61,494.15h0 M320.22,496.11h0 M345.91,496.61h0 M371.61,497.00h0 M397.31,497.30h0" fill="none" stroke="#7030A0" stroke-width="2.6" stroke-linecap="round" stroke-linejoin="round"/>
<path d="M42.50,343.53 L43.93,343.55 L45.36,343.63 L46.79,343.75 L48.22,343.93 L49.65,344.15 L51.09,344.43 L52.52,344.75 L53.95,345.12 L54.96,345.42 M65.73,349.94 L67.06,350.67 L68.50,351.50 L69.93,352.36 L71.36,353.26 L72.79,354.20 L74.22,355.17 L75.65,356.18 L77.08,357.22 L77.73,357.70 M86.81,365.07 L88.05,366.15 L89.48,367.42 L90.91,368.72 L92.34,370.03 L93.78,371.35 L95.21,372.70 L96.64,374.06 L97.35,374.74 M105.70,382.93 L106.89,384.12 L108.32,385.56 L109.75,386.99 L111.19,388.43 L112.62,389.87 L114.05,391.32 L115.48,392.76 L115.78,393.07 M124.06,401.34 L125.26,402.53 L126.69,403.94 L128.12,405.34 L129.55,406.73 L130.98,408.12 L132.41,409.49 L133.84,410.86 L134.31,411.31 M142.91,419.24 L144.34,420.52 L145.77,421.78 L147.20,423.03 L148.63,424.27 L150.06,425.49 L151.49,426.70 L152.92,427.90 L153.74,428.57 M162.92,435.82 L164.13,436.73 L165.56,437.79 L166.99,438.84 L168.42,439.87 L169.85,440.88 L171.29,441.88 L172.72,442.86 L174.15,443.83 L174.57,444.12 M184.46,450.37 L185.83,451.19 L187.26,452.02 L188.70,452.84 L190.13,453.65 L191.56,454.44 L192.99,455.22 L194.42,455.99 L195.85,456.74 L196.96,457.31 M207.50,462.38 L208.73,462.93 L210.16,463.56 L211.59,464.18 L213.02,464.78 L214.45,465.37 L215.88,465.96 L217.31,466.53 L218.75,467.09 L220.18,467.64 L220.71,467.84 M231.75,471.73 L233.06,472.16 L234.49,472.61 L235.92,473.06 L237.35,473.50 L238.78,473.93 L240.21,474.35 L241.64,474.76 L243.07,475.17 L244.50,475.57 L245.45,475.83 M256.79,478.69 L258.10,479.00 L259.53,479.32 L260.96,479.64 L262.39,479.95 L263.82,480.26 L265.25,480.56 L266.68,480.86 L268.11,481.15 L269.54,481.44 L270.78,481.68 M282.29,483.75 L283.62,483.97 L285.05,484.20 L286.48,484.42 L287.91,484.65 L289.34,484.87 L290.77,485.08 L292.20,485.29 L293.63,485.50 L295.06,485.70 L296.43,485.89 M308.03,487.38 L309.37,487.54 L310.80,487.71 L312.23,487.87 L313.67,488.03 L315.10,488.19 L316.53,488.34 L317.96,488.49 L319.39,488.64 L320.82,488.79 L322.25,488.93 M333.90,490.00 L335.13,490.11 L336.56,490.23 L337.99,490.35 L339.42,490.46 L340.85,490.57 L342.28,490.69 L343.72,490.80 L345.15,490.90 L346.58,491.01 L348.01,491.11 L348.15,491.12 M359.83,491.91 L361.13,491.99 L362.56,492.07 L363.99,492.16 L365.42,492.24 L366.85,492.33 L368.28,492.41 L369.71,492.49 L371.14,492.57 L372.57,492.65 L374.00,492.72 L374.10,492.73 M385.79,493.30 L387.12,493.36 L388.55,493.43 L389.98,493.49 L391.41,493.55 L392.85,493.61 L394.28,493.68 L395.71,493.73 L397.14,493.79 L398.57,493.85 L400.00,493.91" fill="none" stroke="#00B050" stroke-width="2.7" stroke-linecap="round" stroke-linejoin="round"/>
<path d="M42.89,343.53h0 M47.66,343.80h0 M52.38,344.53h0 M57.02,345.68h0 M61.55,347.21h0 M65.95,349.07h0 M70.22,351.22h0 M74.36,353.61h0 M78.38,356.20h0 M82.28,358.95h0 M86.08,361.85h0 M89.79,364.87h0 M93.42,367.98h0 M96.97,371.18h0 M100.46,374.45h0 M103.89,377.77h0 M107.28,381.14h0 M110.63,384.55h0 M113.95,387.99h0 M117.24,391.46h0 M120.52,394.94h0 M123.78,398.44h0 M127.03,401.94h0 M130.27,405.45h0 M133.52,408.96h0 M136.78,412.46h0 M140.04,415.95h0 M143.32,419.42h0 M146.62,422.88h0 M149.95,426.32h0 M153.30,429.72h0 M156.69,433.10h0 M160.11,436.43h0 M163.57,439.73h0 M167.08,442.98h0 M170.63,446.17h0 M174.24,449.31h0 M177.90,452.38h0 M181.63,455.38h0 M185.41,458.30h0 M189.25,461.14h0 M193.16,463.89h0 M197.14,466.54h0 M201.19,469.09h0 M205.30,471.53h0 M209.47,473.85h0 M213.71,476.05h0 M218.02,478.14h0 M222.38,480.09h0 M226.80,481.91h0 M231.27,483.61h0 M235.78,485.18h0 M240.34,486.62h0 M244.93,487.94h0 M249.56,489.14h0 M254.21,490.23h0 M258.89,491.21h0 M263.59,492.09h0 M268.30,492.88h0 M273.03,493.57h0 M277.77,494.19h0 M282.52,494.74h0 M287.28,495.21h0 M292.04,495.63h0 M296.81,496.00h0 M301.58,496.31h0 M306.35,496.58h0 M311.12,496.82h0 M315.90,497.02h0 M320.67,497.20h0 M325.45,497.34h0 M330.23,497.47h0 M335.01,497.57h0 M339.79,497.66h0 M344.57,497.74h0 M349.35,497.80h0 M354.13,497.86h0 M358.91,497.90h0 M363.69,497.94h0 M368.47,497.97h0 M373.25,497.99h0 M378.03,498.01h0 M382.81,498.03h0 M387.59,498.04h0 M392.37,498.05h0 M397.15,498.06h0" fill="none" stroke="#00B0F0" stroke-width="2.5" stroke-linecap="round" stroke-linejoin="round"/>
<path d="M42.50,343.54 L44.22,343.27 L45.93,343.11 L47.65,343.05 L49.37,343.09 L51.08,343.23 L52.80,343.46 L54.52,343.79 L56.23,344.20 L57.95,344.70 L59.67,345.28 L61.38,345.93 L63.10,346.67 L64.82,347.47 L66.53,348.34 L68.25,349.28 L69.97,350.27 L71.68,351.33 L73.40,352.45 L75.12,353.62 L76.83,354.84 L78.55,356.11 L80.27,357.42 L81.98,358.78 L83.70,360.18 L85.42,361.61 L87.13,363.08 L88.85,364.59 L90.57,366.12 L92.28,367.69 L94.00,369.27 L95.72,370.89 L97.43,372.52 L99.15,374.17 L100.87,375.85 L102.58,377.53 L104.30,379.23 L106.02,380.94 L107.73,382.66 L109.45,384.38 L111.17,386.12 L112.88,387.85 L114.60,389.59 L116.32,391.33 L118.03,393.06 L119.75,394.80 L121.47,396.53 L123.18,398.25 L124.90,399.96 L126.62,401.67 L128.33,403.37 L130.05,405.05 L131.77,406.72 L133.48,408.38 L135.20,410.03 L136.92,411.65 L138.63,413.26 L140.35,414.85 L142.07,416.42 L143.78,417.98 L145.50,419.51 L147.22,421.01 L148.93,422.50 L150.65,423.96 L152.37,425.40 L154.08,426.81 L155.80,428.20 L157.52,429.56 L159.23,430.89 L160.95,432.20 L162.67,433.48 L164.38,434.74 L166.10,435.96 L167.82,437.16 L169.53,438.33 L171.25,439.46 L172.97,440.57 L174.68,441.66 L176.40,442.71 L178.12,443.73 L179.83,444.73 L181.55,445.69 L183.27,446.63 L184.98,447.54 L186.70,448.42 L188.42,449.28 L190.14,450.10 L191.85,450.90 L193.57,451.67 L195.29,452.42 L197.00,453.14 L198.72,453.84 L200.44,454.51 L202.15,455.16 L203.87,455.78 L205.59,456.39 L207.30,456.97 L209.02,457.53 L210.74,458.07 L212.45,458.59 L214.17,459.10 L215.89,459.59 L217.60,460.06 L219.32,460.52 L221.04,460.97 L222.75,461.41 L224.47,461.83 L226.19,462.25 L227.90,462.66 L229.62,463.06 L231.34,463.46 L233.05,463.85 L234.77,464.24 L236.49,464.64 L238.20,465.03 L239.92,465.43 L241.64,465.83 L243.35,466.24 L245.07,466.66 L246.79,467.09" fill="none" stroke="#000" stroke-width="2.55" stroke-linejoin="round"/>
<circle cx="58.1" cy="352.0" r="3.30" fill="#4472C4"/>
<circle cx="75.3" cy="369.7" r="3.30" fill="#4472C4"/>
<circle cx="92.1" cy="373.8" r="3.30" fill="#4472C4"/>
<circle cx="108.0" cy="399.3" r="3.30" fill="#4472C4"/>
<circle cx="125.0" cy="407.2" r="3.30" fill="#4472C4"/>
<circle cx="157.6" cy="438.7" r="3.30" fill="#4472C4"/>
<circle cx="175.4" cy="432.5" r="3.30" fill="#4472C4"/>
<circle cx="191.7" cy="440.6" r="3.30" fill="#4472C4"/>
<circle cx="208.0" cy="450.2" r="3.30" fill="#4472C4"/>
<circle cx="241.1" cy="454.5" r="3.30" fill="#4472C4"/>
<circle cx="209.0" cy="450.1" r="3.30" fill="#4472C4"/>
<circle cx="257.4" cy="463.0" r="3.30" fill="#4472C4"/>
<circle cx="274.2" cy="467.5" r="3.30" fill="#4472C4"/>
<circle cx="289.8" cy="474.5" r="3.30" fill="#4472C4"/>
<rect x="39.0" y="338.2" width="6.5" height="6.5" fill="#ED7D31"/>
<rect x="55.4" y="344.1" width="6.5" height="6.5" fill="#ED7D31"/>
<rect x="58.1" y="345.9" width="6.5" height="6.5" fill="#ED7D31"/>
<rect x="74.5" y="358.4" width="6.5" height="6.5" fill="#ED7D31"/>
<rect x="93.7" y="379.1" width="6.5" height="6.5" fill="#ED7D31"/>
<rect x="112.2" y="397.8" width="6.5" height="6.5" fill="#ED7D31"/>
<rect x="129.8" y="402.1" width="6.5" height="6.5" fill="#ED7D31"/>
<rect x="147.7" y="429.2" width="6.5" height="6.5" fill="#ED7D31"/>
<rect x="166.8" y="431.1" width="6.5" height="6.5" fill="#ED7D31"/>
<rect x="186.1" y="446.8" width="6.5" height="6.5" fill="#ED7D31"/>
<rect x="204.8" y="454.2" width="6.5" height="6.5" fill="#ED7D31"/>
<rect x="222.1" y="453.2" width="6.5" height="6.5" fill="#ED7D31"/>
<rect x="240.2" y="454.6" width="6.5" height="6.5" fill="#ED7D31"/>
<rect x="205.8" y="453.6" width="6.5" height="6.5" fill="#ED7D31"/>
<rect x="258.6" y="466.9" width="6.5" height="6.5" fill="#ED7D31"/>
<rect x="277.2" y="467.6" width="6.5" height="6.5" fill="#ED7D31"/>
<rect x="293.1" y="473.8" width="6.5" height="6.5" fill="#ED7D31"/>
<rect x="312.2" y="478.1" width="6.5" height="6.5" fill="#ED7D31"/>
<path d="M56.6,351.6 L60.4,355.4 L56.6,359.2 L52.8,355.4Z" fill="#A5A5A5"/>
<path d="M72.9,361.2 L76.7,365.0 L72.9,368.8 L69.1,365.0Z" fill="#A5A5A5"/>
<path d="M89.2,367.9 L93.0,371.7 L89.2,375.5 L85.4,371.7Z" fill="#A5A5A5"/>
<path d="M104.3,400.0 L108.1,403.8 L104.3,407.6 L100.5,403.8Z" fill="#A5A5A5"/>
<path d="M120.1,412.5 L123.9,416.3 L120.1,420.1 L116.3,416.3Z" fill="#A5A5A5"/>
<path d="M135.5,414.4 L139.3,418.2 L135.5,422.0 L131.7,418.2Z" fill="#A5A5A5"/>
<path d="M151.8,418.8 L155.6,422.6 L151.8,426.4 L148.0,422.6Z" fill="#A5A5A5"/>
<path d="M167.2,438.7 L171.0,442.5 L167.2,446.3 L163.4,442.5Z" fill="#A5A5A5"/>
<path d="M183.5,433.9 L187.3,437.7 L183.5,441.5 L179.7,437.7Z" fill="#A5A5A5"/>
<path d="M198.9,440.2 L202.7,444.0 L198.9,447.8 L195.1,444.0Z" fill="#A5A5A5"/>
<path d="M214.2,455.9 L218.0,459.7 L214.2,463.5 L210.4,459.7Z" fill="#A5A5A5"/>
<path d="M260.5,468.7 L264.3,472.5 L260.5,476.3 L256.7,472.5Z" fill="#A5A5A5"/>
<path d="M277.1,478.0 L280.9,481.8 L277.1,485.6 L273.3,481.8Z" fill="#A5A5A5"/>
<path d="M62.4,350.4 L66.0,357.1 L58.8,357.1Z" fill="#FFC000"/>
<path d="M82.0,358.5 L85.6,365.2 L78.4,365.2Z" fill="#FFC000"/>
<path d="M103.1,376.4 L106.7,383.1 L99.5,383.1Z" fill="#FFC000"/>
<path d="M124.0,402.1 L127.6,408.8 L120.4,408.8Z" fill="#FFC000"/>
<path d="M141.8,419.2 L145.4,425.9 L138.2,425.9Z" fill="#FFC000"/>
<path d="M163.3,427.0 L166.9,433.7 L159.7,433.7Z" fill="#FFC000"/>
<path d="M184.0,443.3 L187.6,450.0 L180.4,450.0Z" fill="#FFC000"/>
<path d="M245.0,468.7 L248.6,475.4 L241.4,475.4Z" fill="#FFC000"/>
<path d="M264.0,464.7 L267.6,471.4 L260.4,471.4Z" fill="#FFC000"/>
<path d="M244.5,469.6 L248.1,476.3 L240.9,476.3Z" fill="#FFC000"/>
<path d="M285.5,463.3 L289.1,470.0 L281.9,470.0Z" fill="#FFC000"/>
<path d="M305.4,466.6 L309.0,473.3 L301.8,473.3Z" fill="#FFC000"/>
<path d="M345.0,474.1 L348.6,480.8 L341.4,480.8Z" fill="#FFC000"/>
<path d="M58.7,347.3 H65.1 M61.9,344.1 V350.5" stroke="#5B9BD5" stroke-width="1.3" fill="none"/>
<path d="M78.3,365.0 H84.7 M81.5,361.8 V368.2" stroke="#5B9BD5" stroke-width="1.3" fill="none"/>
<path d="M98.0,382.4 H104.4 M101.2,379.2 V385.6" stroke="#5B9BD5" stroke-width="1.3" fill="none"/>
<path d="M161.2,440.6 H167.6 M164.4,437.4 V443.8" stroke="#5B9BD5" stroke-width="1.3" fill="none"/>
<path d="M216.3,450.6 H222.7 M219.5,447.4 V453.8" stroke="#5B9BD5" stroke-width="1.3" fill="none"/>
<path d="M276.3,476.6 H282.7 M279.5,473.4 V479.8" stroke="#5B9BD5" stroke-width="1.3" fill="none"/>
<circle cx="60.5" cy="342.5" r="2.90" fill="#fff" stroke="#70AD47" stroke-width="1.45"/>
<circle cx="81.5" cy="351.0" r="2.90" fill="#fff" stroke="#70AD47" stroke-width="1.45"/>
<circle cx="102.1" cy="375.7" r="2.90" fill="#fff" stroke="#70AD47" stroke-width="1.45"/>
<circle cx="121.6" cy="401.9" r="2.90" fill="#fff" stroke="#70AD47" stroke-width="1.45"/>
<circle cx="161.4" cy="436.8" r="2.90" fill="#fff" stroke="#70AD47" stroke-width="1.45"/>
<circle cx="201.8" cy="463.3" r="2.90" fill="#fff" stroke="#70AD47" stroke-width="1.45"/>
<circle cx="181.1" cy="465.7" r="2.90" fill="#fff" stroke="#70AD47" stroke-width="1.45"/>
<circle cx="221.4" cy="445.3" r="2.90" fill="#fff" stroke="#70AD47" stroke-width="1.45"/>
<circle cx="241.1" cy="470.4" r="2.90" fill="#fff" stroke="#70AD47" stroke-width="1.45"/>
<circle cx="261.3" cy="458.2" r="2.90" fill="#fff" stroke="#70AD47" stroke-width="1.45"/>
<circle cx="281.0" cy="468.9" r="2.90" fill="#fff" stroke="#70AD47" stroke-width="1.45"/>
<circle cx="301.1" cy="474.2" r="2.90" fill="#fff" stroke="#70AD47" stroke-width="1.45"/>
<circle cx="320.2" cy="484.6" r="2.90" fill="#fff" stroke="#70AD47" stroke-width="1.45"/>
<circle cx="340.8" cy="486.7" r="2.90" fill="#fff" stroke="#70AD47" stroke-width="1.45"/>
<rect x="39.5" y="341.1" width="5.6" height="5.6" fill="#fff" stroke="#264478" stroke-width="1.55"/>
<rect x="60.1" y="339.7" width="5.6" height="5.6" fill="#fff" stroke="#264478" stroke-width="1.55"/>
<rect x="84.0" y="355.9" width="5.6" height="5.6" fill="#fff" stroke="#264478" stroke-width="1.55"/>
<rect x="107.8" y="387.7" width="5.6" height="5.6" fill="#fff" stroke="#264478" stroke-width="1.55"/>
<rect x="129.8" y="409.7" width="5.6" height="5.6" fill="#fff" stroke="#264478" stroke-width="1.55"/>
<rect x="153.8" y="425.8" width="5.6" height="5.6" fill="#fff" stroke="#264478" stroke-width="1.55"/>
<rect x="176.4" y="437.8" width="5.6" height="5.6" fill="#fff" stroke="#264478" stroke-width="1.55"/>
<rect x="199.0" y="455.7" width="5.6" height="5.6" fill="#fff" stroke="#264478" stroke-width="1.55"/>
<rect x="243.1" y="456.0" width="5.6" height="5.6" fill="#fff" stroke="#264478" stroke-width="1.55"/>
<rect x="222.0" y="460.4" width="5.6" height="5.6" fill="#fff" stroke="#264478" stroke-width="1.55"/>
<rect x="245.0" y="456.4" width="5.6" height="5.6" fill="#fff" stroke="#264478" stroke-width="1.55"/>
<rect x="267.6" y="467.2" width="5.6" height="5.6" fill="#fff" stroke="#264478" stroke-width="1.55"/>
<rect x="290.0" y="468.1" width="5.6" height="5.6" fill="#fff" stroke="#264478" stroke-width="1.55"/>
<rect x="313.2" y="471.8" width="5.6" height="5.6" fill="#fff" stroke="#264478" stroke-width="1.55"/>
<rect x="335.9" y="474.4" width="5.6" height="5.6" fill="#fff" stroke="#264478" stroke-width="1.55"/>
<rect x="357.7" y="480.2" width="5.6" height="5.6" fill="#fff" stroke="#264478" stroke-width="1.55"/>
<rect x="381.4" y="480.8" width="5.6" height="5.6" fill="#fff" stroke="#264478" stroke-width="1.55"/>
<path d="M42.3,345.3 L45.7,348.7 L42.3,352.1 L38.9,348.7Z" fill="#fff" stroke="#9E480E" stroke-width="1.45"/>
<path d="M88.2,363.5 L91.6,366.9 L88.2,370.3 L84.8,366.9Z" fill="#fff" stroke="#9E480E" stroke-width="1.45"/>
<path d="M111.0,386.5 L114.4,389.9 L111.0,393.3 L107.6,389.9Z" fill="#fff" stroke="#9E480E" stroke-width="1.45"/>
<path d="M133.6,409.1 L137.0,412.5 L133.6,415.9 L130.2,412.5Z" fill="#fff" stroke="#9E480E" stroke-width="1.45"/>
<path d="M156.6,428.6 L160.0,432.0 L156.6,435.4 L153.2,432.0Z" fill="#fff" stroke="#9E480E" stroke-width="1.45"/>
<path d="M180.6,443.5 L184.0,446.9 L180.6,450.3 L177.2,446.9Z" fill="#fff" stroke="#9E480E" stroke-width="1.45"/>
<path d="M203.2,447.6 L206.6,451.0 L203.2,454.4 L199.8,451.0Z" fill="#fff" stroke="#9E480E" stroke-width="1.45"/>
<path d="M226.7,449.1 L230.1,452.5 L226.7,455.9 L223.3,452.5Z" fill="#fff" stroke="#9E480E" stroke-width="1.45"/>
<path d="M249.5,464.9 L252.9,468.3 L249.5,471.7 L246.1,468.3Z" fill="#fff" stroke="#9E480E" stroke-width="1.45"/>
<path d="M272.8,476.5 L276.2,479.9 L272.8,483.3 L269.4,479.9Z" fill="#fff" stroke="#9E480E" stroke-width="1.45"/>
<path d="M295.1,468.1 L298.5,471.5 L295.1,474.9 L291.7,471.5Z" fill="#fff" stroke="#9E480E" stroke-width="1.45"/>
<path d="M317.6,475.4 L321.0,478.8 L317.6,482.2 L314.2,478.8Z" fill="#fff" stroke="#9E480E" stroke-width="1.45"/>
<path d="M341.3,477.0 L344.7,480.4 L341.3,483.8 L337.9,480.4Z" fill="#fff" stroke="#9E480E" stroke-width="1.45"/>
<path d="M364.6,482.5 L368.0,485.9 L364.6,489.3 L361.2,485.9Z" fill="#fff" stroke="#9E480E" stroke-width="1.45"/>
<path d="M387.6,481.3 L391.0,484.7 L387.6,488.1 L384.2,484.7Z" fill="#fff" stroke="#9E480E" stroke-width="1.45"/>
<path d="M112.7,377.6 L115.7,383.2 L109.7,383.2Z" fill="#fff" stroke="#636363" stroke-width="1.45"/>
<path d="M159.5,429.5 L162.5,435.1 L156.5,435.1Z" fill="#fff" stroke="#636363" stroke-width="1.45"/>
<path d="M183.5,447.0 L186.5,452.6 L180.5,452.6Z" fill="#fff" stroke="#636363" stroke-width="1.45"/>
<path d="M207.5,449.2 L210.5,454.8 L204.5,454.8Z" fill="#fff" stroke="#636363" stroke-width="1.45"/>
<path d="M230.5,467.4 L233.5,472.9 L227.5,472.9Z" fill="#fff" stroke="#636363" stroke-width="1.45"/>
<path d="M254.6,450.9 L257.6,456.4 L251.6,456.4Z" fill="#fff" stroke="#636363" stroke-width="1.45"/>
<path d="M278.1,459.5 L281.1,465.1 L275.1,465.1Z" fill="#fff" stroke="#636363" stroke-width="1.45"/>
<path d="M301.6,475.5 L304.6,481.1 L298.6,481.1Z" fill="#fff" stroke="#636363" stroke-width="1.45"/>
<path d="M326.0,478.9 L329.0,484.4 L323.0,484.4Z" fill="#fff" stroke="#636363" stroke-width="1.45"/>
<path d="M348.7,477.9 L351.7,483.4 L345.7,483.4Z" fill="#fff" stroke="#636363" stroke-width="1.45"/>
<path d="M372.7,484.0 L375.7,489.6 L369.7,489.6Z" fill="#fff" stroke="#636363" stroke-width="1.45"/>
<path d="M395.7,479.4 L398.7,484.9 L392.7,484.9Z" fill="#fff" stroke="#636363" stroke-width="1.45"/>
<path d="M39.3,350.0 L45.3,356.0 M45.3,350.0 L39.3,356.0" stroke="#997300" stroke-width="1.3" fill="none"/>
<path d="M60.8,339.5 L66.8,345.5 M66.8,339.5 L60.8,345.5" stroke="#997300" stroke-width="1.3" fill="none"/>
<path d="M84.3,350.4 L90.3,356.4 M90.3,350.4 L84.3,356.4" stroke="#997300" stroke-width="1.3" fill="none"/>
<path d="M106.0,367.7 L112.0,373.7 M112.0,367.7 L106.0,373.7" stroke="#997300" stroke-width="1.3" fill="none"/>
<path d="M107.3,368.0 L113.3,374.0 M113.3,368.0 L107.3,374.0" stroke="#997300" stroke-width="1.3" fill="none"/>
<path d="M130.1,402.3 L136.1,408.3 M136.1,402.3 L130.1,408.3" stroke="#997300" stroke-width="1.3" fill="none"/>
<path d="M152.2,431.4 L158.2,437.4 M158.2,431.4 L152.2,437.4" stroke="#997300" stroke-width="1.3" fill="none"/>
<path d="M175.5,447.5 L181.5,453.5 M181.5,447.5 L175.5,453.5" stroke="#997300" stroke-width="1.3" fill="none"/>
<path d="M197.8,452.1 L203.8,458.1 M203.8,452.1 L197.8,458.1" stroke="#997300" stroke-width="1.3" fill="none"/>
<path d="M220.4,447.1 L226.4,453.1 M226.4,447.1 L220.4,453.1" stroke="#997300" stroke-width="1.3" fill="none"/>
<path d="M244.8,472.1 L250.8,478.1 M250.8,472.1 L244.8,478.1" stroke="#997300" stroke-width="1.3" fill="none"/>
<path d="M266.4,474.5 L272.4,480.5 M272.4,474.5 L266.4,480.5" stroke="#997300" stroke-width="1.3" fill="none"/>
<path d="M289.0,477.4 L295.0,483.4 M295.0,477.4 L289.0,483.4" stroke="#997300" stroke-width="1.3" fill="none"/>
<path d="M311.1,476.9 L317.1,482.9 M317.1,476.9 L311.1,482.9" stroke="#997300" stroke-width="1.3" fill="none"/>
<path d="M335.2,480.5 L341.2,486.5 M341.2,480.5 L335.2,486.5" stroke="#997300" stroke-width="1.3" fill="none"/>
<path d="M357.0,485.2 L363.0,491.2 M363.0,485.2 L357.0,491.2" stroke="#997300" stroke-width="1.3" fill="none"/>
<path d="M380.0,485.7 L386.0,491.7 M386.0,485.7 L380.0,491.7" stroke="#997300" stroke-width="1.3" fill="none"/>
<path d="M39.5,357.9 L45.1,363.5 M45.1,357.9 L39.5,363.5 M42.3,358.7 V362.7" stroke="#8CCB45" stroke-width="1.4" fill="none"/>
<path d="M63.9,339.2 L69.5,344.8 M69.5,339.2 L63.9,344.8 M66.7,340.0 V344.0" stroke="#8CCB45" stroke-width="1.4" fill="none"/>
<path d="M89.7,351.6 L95.3,357.2 M95.3,351.6 L89.7,357.2 M92.5,352.4 V356.4" stroke="#8CCB45" stroke-width="1.4" fill="none"/>
<path d="M115.7,382.6 L121.3,388.2 M121.3,382.6 L115.7,388.2 M118.5,383.4 V387.4" stroke="#8CCB45" stroke-width="1.4" fill="none"/>
<path d="M190.8,454.2 L196.4,459.8 M196.4,454.2 L190.8,459.8 M193.6,455.0 V459.0" stroke="#8CCB45" stroke-width="1.4" fill="none"/>
<path d="M241.7,457.4 L247.3,463.0 M247.3,457.4 L241.7,463.0 M244.5,458.2 V462.2" stroke="#8CCB45" stroke-width="1.4" fill="none"/>
<path d="M215.8,468.6 L221.4,474.2 M221.4,468.6 L215.8,474.2 M218.6,469.4 V473.4" stroke="#8CCB45" stroke-width="1.4" fill="none"/>
<path d="M266.6,460.2 L272.2,465.8 M272.2,460.2 L266.6,465.8 M269.4,461.0 V465.0" stroke="#8CCB45" stroke-width="1.4" fill="none"/>
<path d="M291.2,472.1 L296.8,477.7 M296.8,472.1 L291.2,477.7 M294.0,472.9 V476.9" stroke="#8CCB45" stroke-width="1.4" fill="none"/>
<path d="M315.6,475.4 L321.2,481.0 M321.2,475.4 L315.6,481.0 M318.4,476.2 V480.2" stroke="#8CCB45" stroke-width="1.4" fill="none"/>
<path d="M341.7,480.2 L347.3,485.8 M347.3,480.2 L341.7,485.8 M344.5,481.0 V485.0" stroke="#8CCB45" stroke-width="1.4" fill="none"/>
<path d="M366.4,482.5 L372.0,488.1 M372.0,482.5 L366.4,488.1 M369.2,483.3 V487.3" stroke="#8CCB45" stroke-width="1.4" fill="none"/>
<path d="M391.7,485.4 L397.3,491.0 M397.3,485.4 L391.7,491.0 M394.5,486.2 V490.2" stroke="#8CCB45" stroke-width="1.4" fill="none"/>
<rect x="40.0" y="343.2" width="4.6" height="2.4" fill="#2E75D6"/>
<rect x="65.9" y="341.8" width="4.6" height="2.4" fill="#2E75D6"/>
<rect x="91.2" y="350.3" width="4.6" height="2.4" fill="#2E75D6"/>
<rect x="116.7" y="376.5" width="4.6" height="2.4" fill="#2E75D6"/>
<rect x="140.9" y="416.8" width="4.6" height="2.4" fill="#2E75D6"/>
<rect x="166.8" y="449.5" width="4.6" height="2.4" fill="#2E75D6"/>
<rect x="191.3" y="464.5" width="4.6" height="2.4" fill="#2E75D6"/>
<rect x="216.7" y="463.0" width="4.6" height="2.4" fill="#2E75D6"/>
<rect x="241.7" y="474.5" width="4.6" height="2.4" fill="#2E75D6"/>
<rect x="266.7" y="469.5" width="4.6" height="2.4" fill="#2E75D6"/>
<rect x="291.6" y="470.6" width="4.6" height="2.4" fill="#2E75D6"/>
<rect x="278.7" y="475.8" width="4.6" height="2.4" fill="#2E75D6"/>
<rect x="316.9" y="482.3" width="4.6" height="2.4" fill="#2E75D6"/>
<rect x="341.7" y="482.3" width="4.6" height="2.4" fill="#2E75D6"/>
<rect x="366.9" y="487.0" width="4.6" height="2.4" fill="#2E75D6"/>
<rect x="392.2" y="487.5" width="4.6" height="2.4" fill="#2E75D6"/>
<rect x="39.1" y="355.2" width="6.4" height="2.4" fill="#D2601A"/>
<rect x="63.5" y="345.6" width="6.4" height="2.4" fill="#D2601A"/>
<rect x="86.9" y="357.5" width="6.4" height="2.4" fill="#D2601A"/>
<rect x="111.0" y="374.6" width="6.4" height="2.4" fill="#D2601A"/>
<rect x="134.7" y="415.6" width="6.4" height="2.4" fill="#D2601A"/>
<rect x="158.3" y="455.6" width="6.4" height="2.4" fill="#D2601A"/>
<rect x="183.2" y="465.4" width="6.4" height="2.4" fill="#D2601A"/>
<rect x="231.2" y="476.4" width="6.4" height="2.4" fill="#D2601A"/>
<rect x="207.7" y="469.2" width="6.4" height="2.4" fill="#D2601A"/>
<rect x="255.2" y="475.8" width="6.4" height="2.4" fill="#D2601A"/>
<rect x="278.5" y="478.7" width="6.4" height="2.4" fill="#D2601A"/>
<rect x="279.7" y="478.7" width="6.4" height="2.4" fill="#D2601A"/>
<rect x="302.2" y="484.9" width="6.4" height="2.4" fill="#D2601A"/>
<rect x="327.6" y="485.0" width="6.4" height="2.4" fill="#D2601A"/>
<rect x="350.8" y="488.1" width="6.4" height="2.4" fill="#D2601A"/>
<rect x="375.2" y="489.3" width="6.4" height="2.4" fill="#D2601A"/>
<rect x="353.4" y="488.7" width="6.4" height="2.4" fill="#D2601A"/>
<circle cx="331.7" cy="287.4" r="2.80" fill="#4472C4"/>
<text x="350.1" y="290.6" class="lg">x=1.8m</text>
<rect x="328.9" y="294.7" width="5.5" height="5.5" fill="#ED7D31"/>
<text x="350.1" y="300.7" class="lg">x=1.7m</text>
<path d="M331.7,304.3 L334.9,307.5 L331.7,310.8 L328.5,307.5Z" fill="#A5A5A5"/>
<text x="350.1" y="310.7" class="lg">x=1.6m</text>
<path d="M331.7,314.5 L334.8,320.2 L328.6,320.2Z" fill="#FFC000"/>
<text x="350.1" y="320.8" class="lg">x=1.5m</text>
<path d="M329.0,327.7 H334.4 M331.7,325.0 V330.4" stroke="#5B9BD5" stroke-width="1.3" fill="none"/>
<text x="350.1" y="330.9" class="lg">x=1.4m</text>
<circle cx="331.7" cy="337.8" r="2.46" fill="#fff" stroke="#70AD47" stroke-width="1.23"/>
<text x="350.1" y="340.9" class="lg">x=1.3m</text>
<rect x="329.3" y="345.4" width="4.8" height="4.8" fill="#fff" stroke="#264478" stroke-width="1.32"/>
<text x="350.1" y="351.0" class="lg">x=1.2m</text>
<path d="M331.7,355.0 L334.6,357.9 L331.7,360.8 L328.8,357.9Z" fill="#fff" stroke="#9E480E" stroke-width="1.23"/>
<text x="350.1" y="361.1" class="lg">x=1.1m</text>
<path d="M331.7,365.4 L334.2,370.1 L329.1,370.1Z" fill="#fff" stroke="#636363" stroke-width="1.23"/>
<text x="350.1" y="371.2" class="lg">x=1.0m</text>
<path d="M329.1,375.5 L334.2,380.6 M334.2,375.5 L329.1,380.6" stroke="#997300" stroke-width="1.3" fill="none"/>
<text x="350.1" y="381.2" class="lg">x=0.9m</text>
<path d="M329.3,385.7 L334.1,390.5 M334.1,385.7 L329.3,390.5 M331.7,386.4 V389.8" stroke="#8CCB45" stroke-width="1.4" fill="none"/>
<text x="350.1" y="391.3" class="lg">x=0.8m</text>
<rect x="329.7" y="397.1" width="3.9" height="2.0" fill="#2E75D6"/>
<text x="350.1" y="401.4" class="lg">x=0.7m</text>
<rect x="329.0" y="407.2" width="5.4" height="2.0" fill="#D2601A"/>
<text x="350.1" y="411.4" class="lg">x=0.6m</text>
<path d="M317.59999999999997,418.3 H347" stroke="#FF0000" stroke-width="2.6" stroke-dasharray="7 9.5" stroke-linecap="round"/>
<text x="350.1" y="421.5" class="lg">Rajaratnam</text>
<path d="M317.59999999999997,428.4 H347" stroke="#7030A0" stroke-width="2.5" stroke-dasharray="7 9 0.5 9" stroke-linecap="round"/>
<text x="350.1" y="431.6" class="lg">Tollmien</text>
<path d="M317.59999999999997,438.4 H345.8" stroke="#00B050" stroke-width="2.6" stroke-dasharray="16 10" stroke-linecap="round"/>
<text x="350.1" y="441.6" class="lg">Gortler</text>
<path d="M317.4,448.5 H347" stroke="#00B0F0" stroke-width="2.5" stroke-dasharray="0.1 4.8" stroke-linecap="round"/>
<text x="350.1" y="451.7" class="lg">ASHRAE</text>
<path d="M317.59999999999997,458.6 H345.8" stroke="#000" stroke-width="3" stroke-linecap="round"/>
<text x="350.1" y="461.8" class="lg">Fitting line</text>
<text x="184" y="300.5" class="ttl"><tspan font-style="italic">u</tspan><tspan font-style="italic" font-size="7" dy="0.5">0</tspan><tspan dy="-0.5">=0.716m/s</tspan></text>
<text transform="translate(12.8,389.2) rotate(-90)" text-anchor="middle" class="yt">u(y)/u<tspan font-size="8.5" dy="2">m</tspan><tspan dy="-2">(x)</tspan></text>
<text x="220.8" y="526" text-anchor="middle" class="eta">η</text>
<text x="208.3" y="543.5" text-anchor="middle" class="cap">(c)</text>
</svg>
</body></html>
